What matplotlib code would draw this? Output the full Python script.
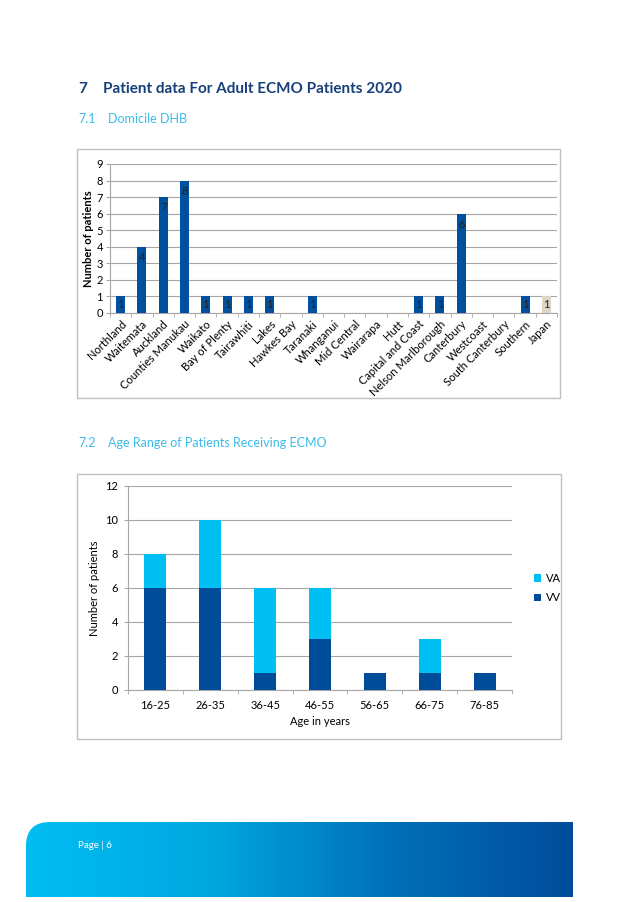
import numpy as np
import matplotlib
matplotlib.use('Agg')
from matplotlib import pyplot as plt
from matplotlib.patches import Rectangle, PathPatch
from matplotlib.path import Path
from matplotlib.colors import LinearSegmentedColormap

plt.rcParams['font.family'] = ['Lato', 'DejaVu Sans']

# 7.1 Domicile DHB
dhb_names = ['Northland', 'Waitemata', 'Auckland', 'Counties Manukau', 'Waikato',
             'Bay of Plenty', 'Tairawhiti', 'Lakes', 'Hawkes Bay', 'Taranaki',
             'Whanganui', 'Mid Central', 'Wairarapa', 'Hutt', 'Capital and Coast',
             'Nelson Marlborough', 'Canterbury', 'Westcoast', 'South Canterbury',
             'Southern', 'Japan']
dhb_counts = [1, 4, 7, 8, 1, 1, 1, 1, 0, 1, 0, 0, 0, 0, 1, 1, 6, 0, 0, 1, 1]

# 7.2 Age range
age_groups = ['16-25', '26-35', '36-45', '46-55', '56-65', '66-75', '76-85']
vv_counts = [6, 6, 1, 3, 1, 1, 1]
va_counts = [2, 4, 5, 3, 0, 2, 0]

W, H = 638, 902
NAVY = '#17407a'
LIGHT = '#3dbbe8'
DARK_BAR = '#0050a0'
GRID = '#a6a6a6'
FS = 8


def px(x0, y0, x1, y1):
    return [x0 / W, 1 - y1 / H, (x1 - x0) / W, (y1 - y0) / H]


fig = plt.figure(figsize=(W / 100, H / 100), dpi=100)
fig.patch.set_facecolor('white')

# page headings
fig.text(78 / W, 1 - 89 / H, '7', fontsize=11, fontweight='bold', color=NAVY, va='center')
fig.text(103 / W, 1 - 89 / H, 'Patient data For Adult ECMO Patients 2020', fontsize=11,
         fontweight='bold', color=NAVY, va='center')
fig.text(78 / W, 1 - 119 / H, '7.1', fontsize=9, color=LIGHT, va='center')
fig.text(108 / W, 1 - 119 / H, 'Domicile DHB', fontsize=9, color=LIGHT, va='center')
fig.text(78 / W, 1 - 443 / H, '7.2', fontsize=9, color=LIGHT, va='center')
fig.text(108 / W, 1 - 443 / H, 'Age Range of Patients Receiving ECMO', fontsize=9,
         color=LIGHT, va='center')

# chart frames
for (x0, y0, x1, y1) in [(77, 149, 560, 398), (77, 474, 561, 739)]:
    fig.patches.append(Rectangle((x0 / W, 1 - y1 / H), (x1 - x0) / W, (y1 - y0) / H,
                                 transform=fig.transFigure, fill=False,
                                 edgecolor='#bfbfbf', linewidth=1))

# ---- chart 1 ----
ax1 = fig.add_axes(px(110, 164, 557, 313))
x = np.arange(len(dhb_names))
colors = [DARK_BAR] * (len(dhb_names) - 1) + ['#ddd6c8']
ax1.bar(x, dhb_counts, width=0.42, color=colors, zorder=3)
for xi, v in zip(x, dhb_counts):
    if v > 0:
        yy = 0.5 if v == 1 else v - 0.65
        ax1.text(xi, yy, str(v), ha='center', va='center', fontsize=FS, color='#222222', zorder=4)
ax1.set_xlim(-0.5, len(dhb_names) - 0.5)
ax1.set_ylim(0, 9)
ax1.set_yticks(range(0, 10))
ax1.set_xticks(x)
ax1.set_xticklabels(dhb_names, rotation=45, ha='right', rotation_mode='anchor', fontsize=FS)
ax1.set_xticks(np.arange(-0.5, len(dhb_names)), minor=True)
ax1.tick_params(axis='x', which='major', length=0, pad=4)
ax1.tick_params(axis='x', which='minor', length=3, color=GRID)
ax1.tick_params(axis='y', length=3, color=GRID, labelsize=FS, pad=2)
ax1.yaxis.grid(True, color=GRID, linewidth=0.8, zorder=0)
ax1.set_ylabel('Number of patients', fontsize=FS, fontweight='bold', labelpad=2)
for s in ['top', 'right']:
    ax1.spines[s].set_visible(False)
for s in ['left', 'bottom']:
    ax1.spines[s].set_color(GRID)

# ---- chart 2 ----
ax2 = fig.add_axes(px(128, 486, 512, 690))
x2 = np.arange(len(age_groups))
ax2.bar(x2, vv_counts, width=0.4, color='#004c99', label='VV', zorder=3)
ax2.bar(x2, va_counts, width=0.4, bottom=vv_counts, color='#00bff3', label='VA', zorder=3)
ax2.set_xlim(-0.5, len(age_groups) - 0.5)
ax2.set_ylim(0, 12)
ax2.set_yticks(range(0, 13, 2))
ax2.set_xticks(x2)
ax2.set_xticklabels(age_groups, fontsize=FS)
ax2.set_xticks(np.arange(-0.5, len(age_groups)), minor=True)
ax2.tick_params(axis='x', which='major', length=0, pad=7)
ax2.tick_params(axis='x', which='minor', length=3, color=GRID)
ax2.tick_params(axis='y', length=3, color=GRID, labelsize=FS, pad=4)
ax2.yaxis.grid(True, color=GRID, linewidth=0.8, zorder=0)
ax2.set_ylabel('Number of patients', fontsize=FS, labelpad=4)
ax2.set_xlabel('Age in years', fontsize=FS, labelpad=4)
for s in ['top', 'right']:
    ax2.spines[s].set_visible(False)
for s in ['left', 'bottom']:
    ax2.spines[s].set_color(GRID)
h, l = ax2.get_legend_handles_labels()
ax2.legend(h[::-1], l[::-1], loc='center left', bbox_to_anchor=(1.03, 0.5), frameon=False,
           fontsize=FS, handlelength=0.7, handleheight=0.7, handletextpad=0.4, labelspacing=0.8)

# ---- footer band ----
axf = fig.add_axes([0, 0, 1, 1])
axf.set_xlim(0, W)
axf.set_ylim(H, 0)
axf.axis('off')
grad = np.linspace(0, 1, 256).reshape(1, -1)
cmap = LinearSegmentedColormap.from_list('band', ['#00bdf2', '#00a8e0', '#0070b8', '#004c9b'])
im = axf.imshow(grad, extent=(26, 573, 897, 822), aspect='auto', cmap=cmap, zorder=1)
r = 24
verts = [(26, 897), (26, 822 + r), (26, 822), (26 + r, 822), (573, 822), (573, 897), (26, 897)]
codes = [Path.MOVETO, Path.LINETO, Path.CURVE3, Path.CURVE3, Path.LINETO, Path.LINETO, Path.CLOSEPOLY]
clip = PathPatch(Path(verts, codes), transform=axf.transData, facecolor='none', edgecolor='none')
axf.add_patch(clip)
im.set_clip_path(clip)
axf.text(78, 845, 'Page | 6', color='white', fontsize=7, va='center', zorder=2)

plt.savefig('out.png', dpi=100)
plt.close()
